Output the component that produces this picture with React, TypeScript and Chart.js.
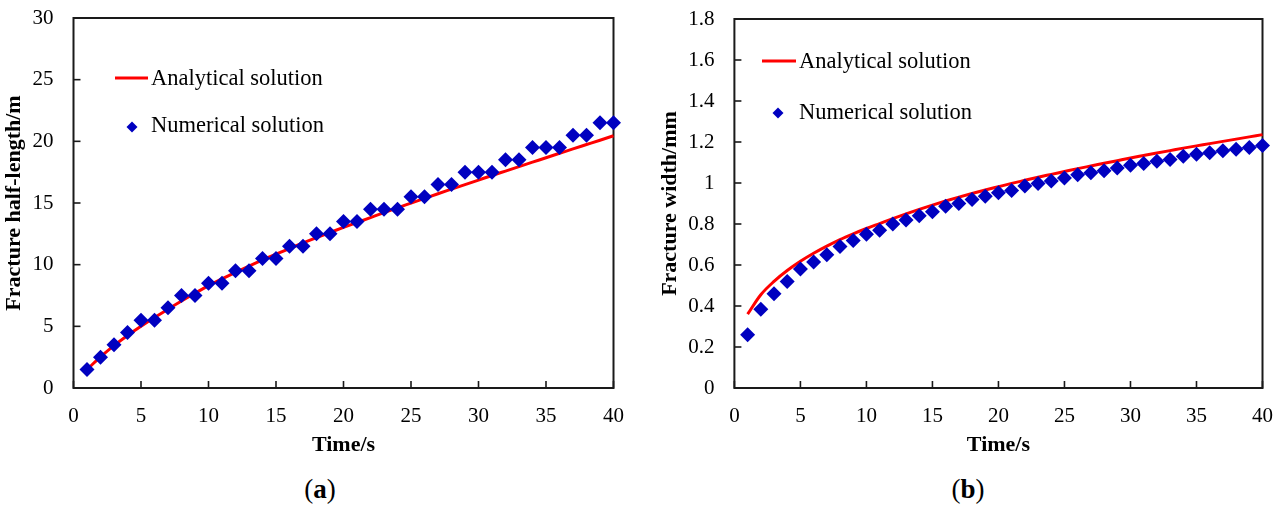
import React, { useEffect, useRef } from "react";
import { Chart, registerables } from "chart.js";

Chart.register(...registerables);

// ---------- data ----------
const times = [
  1, 2, 3, 4, 5, 6, 7, 8, 9, 10, 11, 12, 13, 14, 15, 16, 17, 18, 19, 20,
  21, 22, 23, 24, 25, 26, 27, 28, 29, 30, 31, 32, 33, 34, 35, 36, 37, 38, 39, 40,
];

const halfLengthNumerical = [
  1.5, 2.5, 3.5, 4.5, 5.5, 5.5, 6.5, 7.5, 7.5, 8.5, 8.5, 9.5, 9.5, 10.5, 10.5,
  11.5, 11.5, 12.5, 12.5, 13.5, 13.5, 14.5, 14.5, 14.5, 15.5, 15.5, 16.5, 16.5,
  17.5, 17.5, 17.5, 18.5, 18.5, 19.5, 19.5, 19.5, 20.5, 20.5, 21.5, 21.5,
];

const halfLengthAnalytical = [
  1.5, 2.52, 3.43, 4.25, 5.0, 5.71, 6.39, 7.05, 7.68, 8.3, 8.85, 9.38, 9.89,
  10.38, 10.85, 11.31, 11.76, 12.19, 12.61, 13.02, 13.42, 13.82, 14.22, 14.61,
  14.99, 15.37, 15.75, 16.12, 16.49, 16.86, 17.23, 17.59, 17.95, 18.31, 18.67,
  19.03, 19.39, 19.74, 20.09, 20.45,
];

const widthNumerical = [
  0.26, 0.384, 0.46, 0.52, 0.58, 0.615, 0.65, 0.69, 0.72, 0.75, 0.77, 0.8, 0.82,
  0.84, 0.86, 0.886, 0.9, 0.92, 0.935, 0.953, 0.964, 0.985, 0.998, 1.01, 1.025,
  1.04, 1.05, 1.06, 1.073, 1.086, 1.095, 1.106, 1.115, 1.13, 1.14, 1.147, 1.157,
  1.165, 1.173, 1.183,
];

const widthAnalytical = [
  0.36, 0.455, 0.52, 0.573, 0.618, 0.657, 0.692, 0.724, 0.752, 0.778, 0.802,
  0.826, 0.849, 0.871, 0.892, 0.912, 0.931, 0.949, 0.966, 0.982, 0.998, 1.013,
  1.028, 1.042, 1.056, 1.07, 1.083, 1.096, 1.109, 1.122, 1.134, 1.146, 1.158,
  1.17, 1.181, 1.192, 1.203, 1.214, 1.225, 1.236,
];

const xTickValues = [0, 5, 10, 15, 20, 25, 30, 35, 40];
const yTickValuesA = [0, 5, 10, 15, 20, 25, 30];
const yTickValuesB = [0, 0.2, 0.4, 0.6, 0.8, 1, 1.2, 1.4, 1.6, 1.8];

const legendLabels = ["Analytical solution", "Numerical solution"];
const xAxisTitle = "Time/s";
const yTitleA = "Fracture half-length/m";
const yTitleB = "Fracture width/mm";
const captionLetters = ["a", "b"];

// ---------- styles ----------
const FONT = '"Liberation Serif", "Times New Roman", serif';
const RED = "#ff0000";
const BLUE = "#0000c0";
const AXIS = "#1a1a1a";

type PanelProps = {
  left: number;
  width: number;
  height: number;
  yMax: number;
  yTicks: number[];
  yTitle: string;
  analytical: number[];
  numerical: number[];
  pad: { left: number; right: number; top: number };
  yAxisWidth: number;
  legend: { lineX1: number; lineX2: number; lineY: number; textX: number; text1Y: number; diaX: number; diaY: number; text2Y: number };
};

function Panel(p: PanelProps) {
  const ref = useRef<HTMLCanvasElement | null>(null);

  useEffect(() => {
    if (!ref.current) return;
    const framePlugin = {
      id: "frameAndLegend",
      beforeDatasetsDraw(chart: any) {
        const { ctx, chartArea: a, scales } = chart;
        ctx.save();
        ctx.strokeStyle = AXIS;
        ctx.lineWidth = 1.6;
        scales.x.ticks.forEach((t: any) => {
          const px = scales.x.getPixelForValue(t.value);
          ctx.beginPath();
          ctx.moveTo(px, a.bottom);
          ctx.lineTo(px, a.bottom - 7);
          ctx.stroke();
        });
        scales.y.ticks.forEach((t: any) => {
          const py = scales.y.getPixelForValue(t.value);
          ctx.beginPath();
          ctx.moveTo(a.left, py);
          ctx.lineTo(a.left + 7, py);
          ctx.stroke();
        });
        ctx.lineWidth = 2;
        ctx.strokeRect(a.left, a.top, a.right - a.left, a.bottom - a.top);
        ctx.restore();
      },
      afterDraw(chart: any) {
        const { ctx, chartArea: a } = chart;
        const L = p.legend;
        ctx.save();
        ctx.strokeStyle = RED;
        ctx.lineWidth = 3;
        ctx.beginPath();
        ctx.moveTo(a.left + L.lineX1, a.top + L.lineY);
        ctx.lineTo(a.left + L.lineX2, a.top + L.lineY);
        ctx.stroke();
        ctx.fillStyle = BLUE;
        const dx = a.left + L.diaX;
        const dy = a.top + L.diaY;
        const r = 5.5;
        ctx.beginPath();
        ctx.moveTo(dx, dy - r);
        ctx.lineTo(dx + r, dy);
        ctx.lineTo(dx, dy + r);
        ctx.lineTo(dx - r, dy);
        ctx.closePath();
        ctx.fill();
        ctx.fillStyle = "#000";
        ctx.font = `22.5px ${FONT}`;
        ctx.textBaseline = "middle";
        ctx.textAlign = "left";
        ctx.fillText(legendLabels[0], a.left + L.textX, a.top + L.text1Y);
        ctx.fillText(legendLabels[1], a.left + L.textX, a.top + L.text2Y);
        ctx.restore();
      },
    };

    const fmt = (v: any) => String(+Number(v).toFixed(1));

    const chart = new Chart(ref.current, {
      type: "scatter",
      data: {
        datasets: [
          {
            label: legendLabels[1],
            data: times.map((t, i) => ({ x: t, y: p.numerical[i] })),
            pointStyle: "rectRot",
            pointRadius: 7.5,
            backgroundColor: BLUE,
            borderColor: BLUE,
            borderWidth: 0,
            showLine: false,
            clip: false as any,
            order: 0,
          },
          {
            label: legendLabels[0],
            data: times.map((t, i) => ({ x: t, y: p.analytical[i] })),
            showLine: true,
            borderColor: RED,
            borderWidth: 3,
            pointRadius: 0,
            cubicInterpolationMode: "monotone",
            fill: false,
            clip: false as any,
            order: 1,
          },
        ],
      },
      options: {
        responsive: false,
        animation: false,
        events: [],
        layout: { padding: { left: p.pad.left, right: p.pad.right, top: p.pad.top, bottom: 0 } },
        plugins: { legend: { display: false }, tooltip: { enabled: false }, title: { display: false } },
        scales: {
          x: {
            type: "linear",
            min: 0,
            max: 40,
            afterBuildTicks: (s: any) => {
              s.ticks = xTickValues.map((v) => ({ value: v }));
            },
            afterFit: (s: any) => {
              s.height = p.height - 388;
              s.paddingLeft = 0;
              s.paddingRight = 0;
            },
            grid: { display: false, drawTicks: false },
            border: { display: false },
            ticks: {
              padding: 16,
              autoSkip: false,
              maxRotation: 0,
              color: "#000",
              font: { family: FONT, size: 21 },
              callback: (v: any) => fmt(v),
            },
            title: {
              display: true,
              text: xAxisTitle,
              color: "#000",
              font: { family: FONT, size: 22, weight: "bold" },
              padding: { top: 0, bottom: 1 },
            },
          },
          y: {
            type: "linear",
            min: 0,
            max: p.yMax,
            afterBuildTicks: (s: any) => {
              s.ticks = p.yTicks.map((v) => ({ value: v }));
            },
            afterFit: (s: any) => {
              s.width = p.yAxisWidth;
              s.paddingTop = 0;
              s.paddingBottom = 0;
            },
            grid: { display: false, drawTicks: false },
            border: { display: false },
            ticks: {
              padding: 20,
              autoSkip: false,
              color: "#000",
              font: { family: FONT, size: 21 },
              callback: (v: any) => fmt(v),
            },
            title: {
              display: true,
              text: p.yTitle,
              color: "#000",
              font: { family: FONT, size: 22, weight: "bold" },
              padding: { top: 1, bottom: 0 },
            },
          },
        },
      } as any,
      plugins: [framePlugin],
    });
    return () => chart.destroy();
  }, []);

  return (
    <canvas
      ref={ref}
      width={p.width}
      height={p.height}
      style={{ position: "absolute", left: p.left, top: 0, display: "block" }}
    />
  );
}

function Caption({ cx, letter }: { cx: number; letter: string }) {
  return (
    <div
      style={{
        position: "absolute",
        left: cx - 50,
        top: 476,
        width: 100,
        textAlign: "center",
        fontFamily: FONT,
        fontSize: 27,
        lineHeight: "26px",
        color: "#000",
      }}
    >
      (<b>{letter}</b>)
    </div>
  );
}

export default function App() {
  return (
    <div
      style={{
        position: "fixed",
        left: 0,
        top: 0,
        width: 1278,
        height: 508,
        background: "#fff",
        overflow: "hidden",
      }}
    >
      <Panel
        left={0}
        width={640}
        height={460}
        yMax={30}
        yTicks={yTickValuesA}
        yTitle={yTitleA}
        analytical={halfLengthAnalytical}
        numerical={halfLengthNumerical}
        pad={{ left: 0, right: 26.5, top: 18 }}
        yAxisWidth={73.5}
        legend={{ lineX1: 41.5, lineX2: 74.5, lineY: 60, textX: 77.5, text1Y: 61, diaX: 58.5, diaY: 109, text2Y: 108 }}
      />
      <Panel
        left={640}
        width={638}
        height={460}
        yMax={1.8}
        yTicks={yTickValuesB}
        yTitle={yTitleB}
        analytical={widthAnalytical}
        numerical={widthNumerical}
        pad={{ left: 16, right: 15.5, top: 19 }}
        yAxisWidth={78.4}
        legend={{ lineX1: 27.6, lineX2: 61.6, lineY: 42, textX: 64.6, text1Y: 43, diaX: 43.6, diaY: 94, text2Y: 94 }}
      />
      <Caption cx={320} letter={captionLetters[0]} />
      <Caption cx={968} letter={captionLetters[1]} />
    </div>
  );
}
